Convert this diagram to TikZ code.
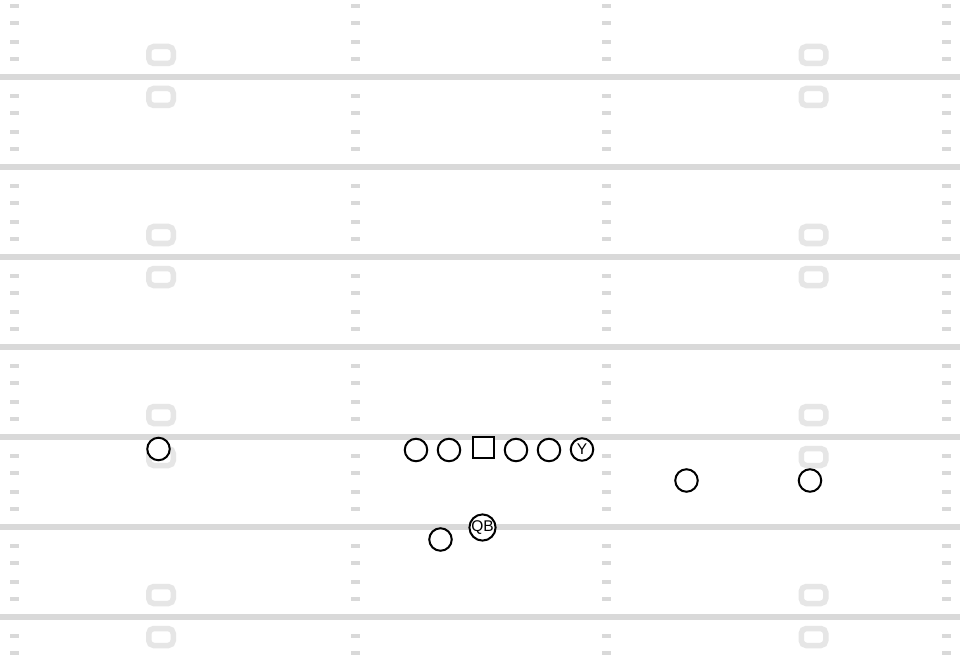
\documentclass[tikz,border=0pt]{standalone}
\usepackage{fontspec}
\setmainfont{Liberation Sans}
\definecolor{yardgray}{HTML}{D9D9D9}
\definecolor{numgray}{HTML}{E6E6E6}
\tikzset{
  yard/.style={draw=yardgray, line width=6pt},
  hashmark/.style={fill=yardgray},
  fieldnum/.style={draw=numgray, line width=5.5pt, rounded corners=5pt},
  pl/.style={circle, draw=black, fill=white, line width=2pt, minimum size=22.5pt, inner sep=0pt, font=\fontsize{15.5}{17}\selectfont},
  ctr/.style={rectangle, draw=black, fill=white, line width=2pt, minimum size=21pt, inner sep=0pt}
}
\begin{document}
\begin{tikzpicture}[x=1pt,y=-1pt]
\useasboundingbox (0,0) rectangle (960,660);
\fill[white] (0,0) rectangle (960,660);
% hash marks
\foreach \L in {-13,77,167,257,347,437,527,617}
  \foreach \o in {19,36,55,72}
    \foreach \x in {14.5,355,606.5,946}
      \fill[hashmark] (\x-4.5,\L+\o-2) rectangle (\x+4.5,\L+\o+2);
% yard lines
\foreach \y in {77,167,257,347,437,527,617}
  \draw[yard] (0,\y) -- (960,\y);
% field number marks
\foreach \L in {77,257,437,617}
  \foreach \x in {161,813.5} {
    \draw[fieldnum] (\x-12.25,\L-22-8.5) rectangle (\x+12.25,\L-22+8.5);
    \draw[fieldnum] (\x-12.25,\L+20-8.5) rectangle (\x+12.25,\L+20+8.5);
  }
% players
\node[pl] (lt) at (416,450) {};
\node[pl] (lg) at (449,450) {};
\node[ctr] (c) at (483.5,447) {};
\node[pl] (rg) at (516,450) {};
\node[pl] (rt) at (549,450) {};
\node[pl] (te) at (582,449.5) {Y};
\node[pl] (wr) at (158.5,449) {};
\node[pl] (sl) at (686.5,480.5) {};
\node[pl] (wr2) at (810,480.5) {};
\node[pl] (qb) at (482.5,527.5) {QB};
\node[pl] (rb) at (440.5,539.5) {};
\end{tikzpicture}
\end{document}
